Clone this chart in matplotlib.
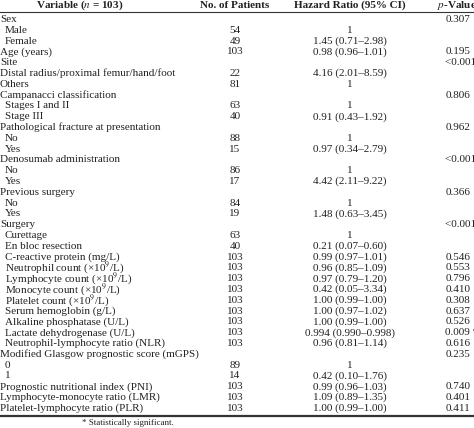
import matplotlib
matplotlib.use("Agg")
import matplotlib.pyplot as plt

variables = ["Sex", "Male", "Female", "Age (years)", "Site", "Distal radius/proximal femur/hand/foot", "Others",
             "Campanacci classification", "Stages I and II", "Stage III", "Pathological fracture at presentation",
             "No", "Yes", "Denosumab administration", "No", "Yes", "Previous surgery", "No", "Yes", "Surgery",
             "Curettage", "En bloc resection", "C-reactive protein (mg/L)", "Neutrophil count (×10$^{9}$/L)",
             "Lymphocyte count (×10$^{9}$/L)", "Monocyte count (×10$^{9}$/L)", "Platelet count (×10$^{9}$/L)",
             "Serum hemoglobin (g/L)", "Alkaline phosphatase (U/L)", "Lactate dehydrogenase (U/L)",
             "Neutrophil-lymphocyte ratio (NLR)", "Modified Glasgow prognostic score (mGPS)", "0", "1",
             "Prognostic nutritional index (PNI)", "Lymphocyte-monocyte ratio (LMR)", "Platelet-lymphocyte ratio (PLR)"]
indented = [0, 1, 1, 0, 0, 0, 0, 0, 1, 1, 0, 1, 1, 0, 1, 1, 0, 1, 1, 0, 1, 1, 1, 1, 1, 1, 1, 1, 1, 1, 1, 0, 1, 1, 0, 0, 0]
patients = ["", "54", "49", "103", "", "22", "81", "", "63", "40", "", "88", "15", "", "86", "17", "", "84", "19", "",
            "63", "40", "103", "103", "103", "103", "103", "103", "103", "103", "103", "", "89", "14", "103", "103", "103"]
hazard = ["", "1", "1.45 (0.71–2.98)", "0.98 (0.96–1.01)", "", "4.16 (2.01–8.59)", "1", "", "1", "0.91 (0.43–1.92)",
          "", "1", "0.97 (0.34–2.79)", "", "1", "4.42 (2.11–9.22)", "", "1", "1.48 (0.63–3.45)", "", "1",
          "0.21 (0.07–0.60)", "0.99 (0.97–1.01)", "0.96 (0.85–1.09)", "0.97 (0.79–1.20)", "0.42 (0.05–3.34)",
          "1.00 (0.99–1.00)", "1.00 (0.97–1.02)", "1.00 (0.99–1.00)", "0.994 (0.990–0.998)", "0.96 (0.81–1.14)",
          "", "1", "0.42 (0.10–1.76)", "0.99 (0.96–1.03)", "1.09 (0.89–1.35)", "1.00 (0.99–1.00)"]
pvalues = ["0.307", "", "", "0.195", "<0.001 *", "", "", "0.806", "", "", "0.962", "", "", "<0.001 *", "", "", "0.366",
           "", "", "<0.001 *", "", "", "0.546", "0.553", "0.796", "0.410", "0.308", "0.637", "0.526", "0.009 *",
           "0.616", "0.235", "", "", "0.740", "0.401", "0.411"]
headers = ["Variable ($\\it{n}$ = 103)", "No. of Patients", "Hazard Ratio (95% CI)", "$\\it{p}$-Value"]

W, H = 474, 428
plt.rcParams["mathtext.fontset"] = "stix"
fig = plt.figure(figsize=(W / 100, H / 100), dpi=100)
ax = fig.add_axes([0, 0, 1, 1])
ax.set_xlim(0, W)
ax.set_ylim(H, 0)
ax.axis("off")
fam = "Liberation Serif"
fs = 8.0
c = "#222222"

hx = [80, 235, 350, 457]
for x, h in zip(hx, headers):
    ax.text(x, 5, h, ha="center", va="center", fontsize=fs, family=fam, weight="bold", color=c)
ax.plot([0, W], [11.5, 11.5], color="#333333", lw=0.8)
ax.plot([0, W], [416, 416], color="#333333", lw=1.6)

y0, dy = 19.5, 10.8
for i in range(len(variables)):
    y = y0 + i * dy
    ax.text(0 + 5 * indented[i], y, variables[i], ha="left", va="center", fontsize=fs, family=fam, color=c)
    ax.text(235, y, patients[i], ha="center", va="center", fontsize=fs, family=fam, color=c)
    ax.text(350, y, hazard[i], ha="center", va="center", fontsize=fs, family=fam, color=c)
    if "*" in pvalues[i]:
        ax.text(445, y, pvalues[i], ha="left", va="center", fontsize=fs, family=fam, color=c)
    else:
        ax.text(458, y, pvalues[i], ha="center", va="center", fontsize=fs, family=fam, color=c)

ax.text(128, 423, "* Statistically significant.", ha="center", va="center", fontsize=6.5, family=fam, color=c)
fig.savefig("out.png", dpi=100)
